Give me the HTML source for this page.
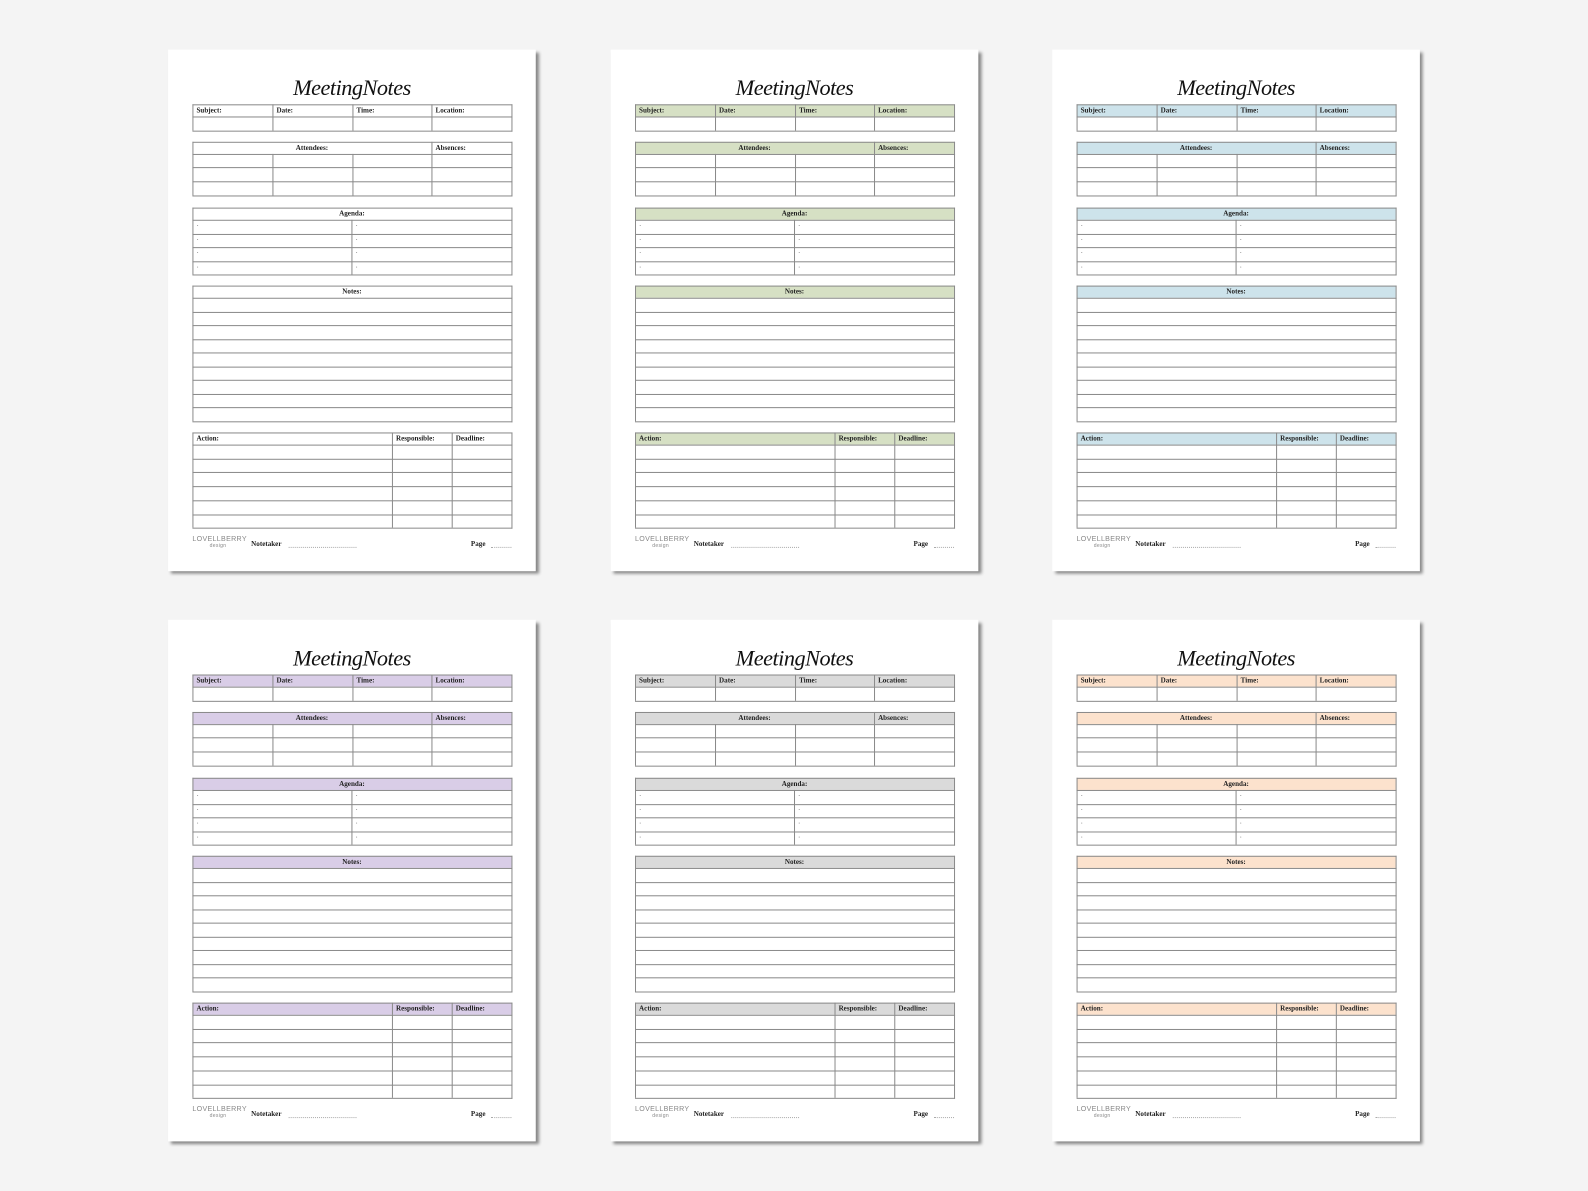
<!DOCTYPE html>
<html><head><meta charset="utf-8">
<style>
html,body{margin:0;padding:0;}
body{width:1588px;height:1191px;overflow:hidden;background:#f4f4f4;font-family:"Liberation Serif",serif;}
#wrap{position:absolute;left:0;top:0;width:1568px;height:1176px;transform:scale(1.01276);transform-origin:0 0;}
.page{position:absolute;width:363px;height:515px;background:#fff;box-shadow:3px 3px 3px rgba(0,0,0,0.45);}
.title{position:absolute;left:0;width:363px;top:25px;text-align:center;font-style:italic;font-size:22px;color:#111;letter-spacing:-0.5px;}
.ab{position:absolute;}
.hl{position:absolute;height:1px;background:#8a8a8a;}
.vl{position:absolute;width:1px;background:#8a8a8a;}
.lbl{position:absolute;font-size:7px;font-weight:bold;color:#222;line-height:12px;white-space:nowrap;}
.dot{position:absolute;font-size:7px;color:#666;}
.brand{position:absolute;font-family:"Liberation Sans",sans-serif;font-size:7px;color:#888;letter-spacing:0.3px;line-height:6px;}
</style></head>
<body>
<div id="wrap"></div>
<script>
const pageX = [166, 603, 1039];
const pageY = [49, 612];
const headerColors = ['#ffffff', '#d6e0c4', '#cde3eb', '#d9cde7', '#dadada', '#fce2cd'];
const colorNames = ['white', 'green', 'blue', 'purple', 'gray', 'peach'];
const wrap = document.getElementById('wrap');
const TX = 24, TW = 315;

function el(parent, cls, css, text) {
  const d = document.createElement('div');
  d.className = cls;
  d.style.cssText = css;
  if (text !== undefined) d.textContent = text;
  parent.appendChild(d);
  return d;
}

function section(page, name, top, rows, headers, headV, bodyV, color, dots) {
  const total = rows.reduce((a, b) => a + b, 0);
  const sec = el(page, 'ab', `left:${TX}px;top:${top}px;width:${TW}px;height:${total}px;`);
  
  
  const hb = el(sec, 'ab', `left:0;top:0;width:${TW}px;height:${rows[0]}px;background:${color};`);
  
  
  headers.forEach(h => {
    let css;
    if (h[2] === 'c') css = `left:${h[1]}px;width:${h[3] - h[1]}px;text-align:center;top:0;`;
    else css = `left:${h[1] + 4}px;top:0;`;
    const l = el(sec, 'lbl', css, h[0]);
    
    
  });
  let y = 0;
  const ys = [0];
  rows.forEach(r => { y += r; ys.push(y); });
  ys.forEach(yy => el(sec, 'hl', `left:0;top:${yy}px;width:${TW + 1}px;`));
  el(sec, 'vl', `left:0;top:0;height:${total}px;`);
  el(sec, 'vl', `left:${TW}px;top:0;height:${total + 1}px;`);
  headV.forEach(x => el(sec, 'vl', `left:${x}px;top:0;height:${rows[0]}px;`));
  bodyV.forEach(x => el(sec, 'vl', `left:${x}px;top:${rows[0]}px;height:${total - rows[0]}px;`));
  for (let i = 1; i < rows.length; i++) {
    const cell = el(sec, 'ab', `left:1px;top:${ys[i] + 1}px;width:${TW - 1}px;height:${rows[i] - 1}px;`);
    
    
    if (dots) {
      el(sec, 'dot', `left:4px;top:${ys[i] + 2}px;`, '·');
      el(sec, 'dot', `left:${dots + 4}px;top:${ys[i] + 2}px;`, '·');
    }
  }
}

for (let r = 0; r < 2; r++) {
  for (let c = 0; c < 3; c++) {
    const idx = r * 3 + c;
    const color = headerColors[idx];
    const p = el(wrap, 'page', `left:${pageX[c]}px;top:${pageY[r]}px;`);
    
    
    const t = el(p, 'title', '', 'MeetingNotes');
    
    

    section(p, 'info', 54, [12, 14],
      [['Subject:', 0], ['Date:', 79], ['Time:', 158], ['Location:', 236]],
      [79, 158, 236], [79, 158, 236], color, 0);
    section(p, 'attendees', 91, [12, 13, 14, 14],
      [['Attendees:', 0, 'c', 236], ['Absences:', 236]],
      [236], [79, 158, 236], color, 0);
    section(p, 'agenda', 156, [12, 13.5, 13.5, 13.5, 13.5],
      [['Agenda:', 0, 'c', TW]], [], [157], color, 157);
    section(p, 'notes', 233, [12, 13.5, 13.5, 13.5, 13.5, 13.5, 13.5, 13.5, 13.5, 13.5],
      [['Notes:', 0, 'c', TW]], [], [], color, 0);
    section(p, 'actions', 378, [12, 13.7, 13.7, 13.7, 13.7, 13.7, 13.7],
      [['Action:', 0], ['Responsible:', 197], ['Deadline:', 256]],
      [197, 256], [197, 256], color, 0);

    const b = el(p, 'brand', `left:24px;top:481px;`, 'LOVELLBERRY');
    
    
    el(p, 'brand', `left:41px;top:487px;font-size:5px;`, 'design');
    const nt = el(p, 'lbl', `left:82px;top:482px;`, 'Notetaker');
    
    
    const nf = el(p, 'ab', `left:119px;top:491px;width:67px;border-bottom:1px dotted #aaa;`);
    
    
    const pg = el(p, 'lbl', `left:299px;top:482px;`, 'Page');
    
    
    const pf = el(p, 'ab', `left:319px;top:491px;width:20px;border-bottom:1px dotted #aaa;`);
    
    
  }
}
</script>
</body></html>
